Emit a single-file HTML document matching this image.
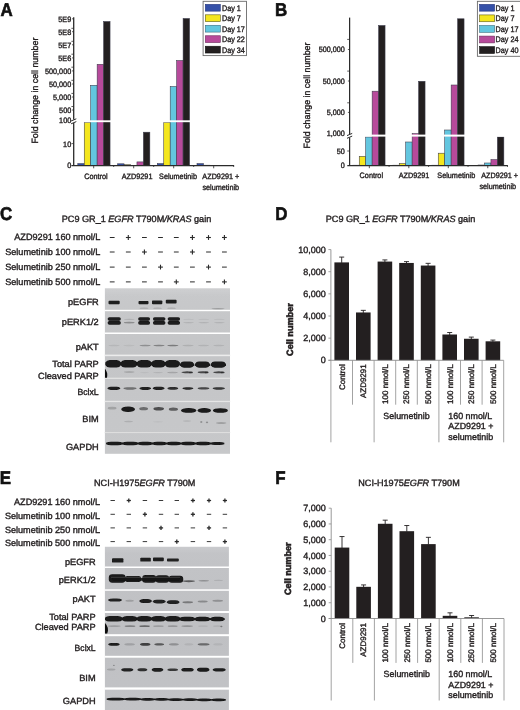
<!DOCTYPE html>
<html lang="en"><head><meta charset="utf-8"><title>Figure</title>
<style>html,body{margin:0;padding:0;background:#fff}svg{display:block}text{font-family:'Liberation Sans', sans-serif;text-rendering:geometricPrecision;stroke:#231f20;stroke-width:0.38px}</style>
</head><body>
<svg width="520" height="710" viewBox="0 0 520 710">
<defs>
<filter id="b0" x="-50%" y="-30%" width="200%" height="160%"><feGaussianBlur stdDeviation="0.35"/></filter>
<filter id="b1" x="-30%" y="-80%" width="160%" height="260%"><feGaussianBlur stdDeviation="0.5"/></filter>
<filter id="b2" x="-30%" y="-100%" width="160%" height="300%"><feGaussianBlur stdDeviation="0.75"/></filter>
<linearGradient id="gbgC" x1="0" y1="0" x2="0" y2="1"><stop offset="0" stop-color="#c8c9cb"/><stop offset="0.4" stop-color="#c4c5c7"/><stop offset="1" stop-color="#c7c8ca"/></linearGradient>
<linearGradient id="gbgE" x1="0" y1="0" x2="0" y2="1"><stop offset="0" stop-color="#c3c4c7"/><stop offset="0.5" stop-color="#bfc0c3"/><stop offset="1" stop-color="#c2c3c6"/></linearGradient>
<linearGradient id="gtop" x1="0" y1="0" x2="0" y2="1"><stop offset="0" stop-color="#fff" stop-opacity="0.12"/><stop offset="1" stop-color="#fff" stop-opacity="0"/></linearGradient>
</defs>
<rect width="520" height="710" fill="#fff"/>
<text transform="translate(0.4 16.2) scale(0.92 1)" font-size="18.4" text-anchor="start" font-weight="bold" fill="#111" style="stroke:#111;stroke-width:0.6px">A</text>
<rect x="77.80" y="163.60" width="6.45" height="2.10" fill="#3450a8" stroke="#3a3a4a" stroke-width="0.55"/>
<rect x="84.25" y="122.50" width="6.45" height="43.20" fill="#f4e61e" stroke="#3a3a4a" stroke-width="0.55"/>
<rect x="90.70" y="85.30" width="6.45" height="80.40" fill="#63c6df" stroke="#3a3a4a" stroke-width="0.55"/>
<rect x="97.15" y="64.30" width="6.45" height="101.40" fill="#b74a9b" stroke="#3a3a4a" stroke-width="0.55"/>
<rect x="103.60" y="21.50" width="6.45" height="144.20" fill="#231f20" stroke="#3a3a4a" stroke-width="0.55"/>
<rect x="117.60" y="163.80" width="6.45" height="1.90" fill="#3450a8" stroke="#3a3a4a" stroke-width="0.55"/>
<rect x="124.05" y="164.70" width="6.45" height="1.00" fill="#f4e61e" stroke="#3a3a4a" stroke-width="0.55"/>
<rect x="136.95" y="161.90" width="6.45" height="3.80" fill="#b74a9b" stroke="#3a3a4a" stroke-width="0.55"/>
<rect x="143.40" y="132.20" width="6.45" height="33.50" fill="#231f20" stroke="#3a3a4a" stroke-width="0.55"/>
<rect x="157.30" y="163.60" width="6.45" height="2.10" fill="#3450a8" stroke="#3a3a4a" stroke-width="0.55"/>
<rect x="163.75" y="122.50" width="6.45" height="43.20" fill="#f4e61e" stroke="#3a3a4a" stroke-width="0.55"/>
<rect x="170.20" y="86.50" width="6.45" height="79.20" fill="#63c6df" stroke="#3a3a4a" stroke-width="0.55"/>
<rect x="176.65" y="60.50" width="6.45" height="105.20" fill="#b74a9b" stroke="#3a3a4a" stroke-width="0.55"/>
<rect x="183.10" y="18.50" width="6.45" height="147.20" fill="#231f20" stroke="#3a3a4a" stroke-width="0.55"/>
<rect x="197.00" y="163.60" width="6.45" height="2.10" fill="#3450a8" stroke="#3a3a4a" stroke-width="0.55"/>
<rect x="203.45" y="165.20" width="6.45" height="0.50" fill="#f4e61e" stroke="#3a3a4a" stroke-width="0.55"/>
<rect x="70.00" y="120.30" width="175.00" height="1.90" fill="#fff"/>
<line x1="73.70" y1="17.20" x2="73.70" y2="119.60" stroke="#2b2b2b" stroke-width="1.3"/>
<line x1="73.70" y1="123.00" x2="73.70" y2="165.70" stroke="#2b2b2b" stroke-width="1.3"/>
<line x1="71.40" y1="165.70" x2="234.10" y2="165.70" stroke="#2b2b2b" stroke-width="1.25"/>
<line x1="71.10" y1="121.00" x2="76.30" y2="118.80" stroke="#2b2b2b" stroke-width="1.0"/>
<line x1="71.10" y1="123.80" x2="76.30" y2="121.60" stroke="#2b2b2b" stroke-width="1.0"/>
<text transform="translate(71.2 21.8) scale(0.93 1)" font-size="7.8" text-anchor="end" fill="#231f20">5E9</text>
<text transform="translate(71.2 34.8) scale(0.93 1)" font-size="7.8" text-anchor="end" fill="#231f20">5E8</text>
<text transform="translate(71.2 47.8) scale(0.93 1)" font-size="7.8" text-anchor="end" fill="#231f20">5E7</text>
<text transform="translate(71.2 60.599999999999994) scale(0.93 1)" font-size="7.8" text-anchor="end" fill="#231f20">5E6</text>
<text transform="translate(71.2 73.6) scale(0.93 1)" font-size="7.8" text-anchor="end" fill="#231f20">500,000</text>
<text transform="translate(71.2 86.89999999999999) scale(0.93 1)" font-size="7.8" text-anchor="end" fill="#231f20">50,000</text>
<text transform="translate(71.2 100.1) scale(0.93 1)" font-size="7.8" text-anchor="end" fill="#231f20">5,000</text>
<text transform="translate(71.2 113.0) scale(0.93 1)" font-size="7.8" text-anchor="end" fill="#231f20">500</text>
<text transform="translate(71.2 122.6) scale(0.93 1)" font-size="7.8" text-anchor="end" fill="#231f20">100</text>
<text transform="translate(71.2 147.0) scale(0.93 1)" font-size="7.8" text-anchor="end" fill="#231f20">10</text>
<text transform="translate(71.2 168.4) scale(0.93 1)" font-size="7.8" text-anchor="end" fill="#231f20">0</text>
<line x1="71.40" y1="28.30" x2="73.70" y2="28.30" stroke="#2b2b2b" stroke-width="0.75"/>
<line x1="71.40" y1="41.30" x2="73.70" y2="41.30" stroke="#2b2b2b" stroke-width="0.75"/>
<line x1="71.40" y1="54.20" x2="73.70" y2="54.20" stroke="#2b2b2b" stroke-width="0.75"/>
<line x1="71.40" y1="67.20" x2="73.70" y2="67.20" stroke="#2b2b2b" stroke-width="0.75"/>
<line x1="71.40" y1="80.30" x2="73.70" y2="80.30" stroke="#2b2b2b" stroke-width="0.75"/>
<line x1="71.40" y1="93.40" x2="73.70" y2="93.40" stroke="#2b2b2b" stroke-width="0.75"/>
<line x1="71.40" y1="106.50" x2="73.70" y2="106.50" stroke="#2b2b2b" stroke-width="0.75"/>
<line x1="71.40" y1="143.60" x2="73.70" y2="143.60" stroke="#2b2b2b" stroke-width="0.75"/>
<line x1="72.00" y1="18.80" x2="73.70" y2="18.80" stroke="#2b2b2b" stroke-width="0.75"/>
<line x1="72.00" y1="31.70" x2="73.70" y2="31.70" stroke="#2b2b2b" stroke-width="0.75"/>
<line x1="72.00" y1="44.80" x2="73.70" y2="44.80" stroke="#2b2b2b" stroke-width="0.75"/>
<line x1="72.00" y1="57.90" x2="73.70" y2="57.90" stroke="#2b2b2b" stroke-width="0.75"/>
<line x1="72.00" y1="70.90" x2="73.70" y2="70.90" stroke="#2b2b2b" stroke-width="0.75"/>
<line x1="72.00" y1="84.00" x2="73.70" y2="84.00" stroke="#2b2b2b" stroke-width="0.75"/>
<line x1="72.00" y1="97.00" x2="73.70" y2="97.00" stroke="#2b2b2b" stroke-width="0.75"/>
<line x1="72.00" y1="110.00" x2="73.70" y2="110.00" stroke="#2b2b2b" stroke-width="0.75"/>
<line x1="93.70" y1="165.70" x2="93.70" y2="168.30" stroke="#2b2b2b" stroke-width="0.8"/>
<line x1="113.70" y1="165.70" x2="113.70" y2="167.00" stroke="#2b2b2b" stroke-width="0.8"/>
<line x1="133.70" y1="165.70" x2="133.70" y2="168.30" stroke="#2b2b2b" stroke-width="0.8"/>
<line x1="153.70" y1="165.70" x2="153.70" y2="167.00" stroke="#2b2b2b" stroke-width="0.8"/>
<line x1="173.70" y1="165.70" x2="173.70" y2="168.30" stroke="#2b2b2b" stroke-width="0.8"/>
<line x1="193.70" y1="165.70" x2="193.70" y2="167.00" stroke="#2b2b2b" stroke-width="0.8"/>
<line x1="213.70" y1="165.70" x2="213.70" y2="168.30" stroke="#2b2b2b" stroke-width="0.8"/>
<line x1="233.70" y1="165.70" x2="233.70" y2="167.00" stroke="#2b2b2b" stroke-width="0.8"/>
<text transform="translate(38.3 90.6) rotate(-90) scale(0.97 1)" font-size="9.1" text-anchor="middle" fill="#231f20">Fold change in cell number</text>
<text transform="translate(95.9 179.0) scale(0.93 1)" font-size="7.8" text-anchor="middle" fill="#231f20">Control</text>
<text transform="translate(137.1 179.0) scale(0.93 1)" font-size="7.8" text-anchor="middle" fill="#231f20">AZD9291</text>
<text transform="translate(178.0 179.0) scale(0.93 1)" font-size="7.8" text-anchor="middle" fill="#231f20">Selumetinib</text>
<text transform="translate(220.8 179.0) scale(0.93 1)" font-size="7.8" text-anchor="middle" fill="#231f20">AZD9291 +</text>
<text transform="translate(220.8 190.3) scale(0.93 1)" font-size="7.8" text-anchor="middle" fill="#231f20">selumetinib</text>
<rect x="203.10" y="1.30" width="43.40" height="54.30" fill="#fff" stroke="#6a6a6a" stroke-width="0.9"/>
<rect x="205.30" y="4.35" width="15.00" height="6.80" fill="#3450a8" stroke="#26367e" stroke-width="0.6"/>
<text transform="translate(222.0 10.65) scale(0.9 1)" font-size="8.0" text-anchor="start" fill="#231f20">Day 1</text>
<rect x="205.30" y="14.82" width="15.00" height="6.80" fill="#f4e61e" stroke="#5c5a1a" stroke-width="0.6"/>
<text transform="translate(222.0 21.119999999999997) scale(0.9 1)" font-size="8.0" text-anchor="start" fill="#231f20">Day 7</text>
<rect x="205.30" y="25.29" width="15.00" height="6.80" fill="#63c6df" stroke="#3c6f80" stroke-width="0.6"/>
<text transform="translate(222.0 31.59) scale(0.9 1)" font-size="8.0" text-anchor="start" fill="#231f20">Day 17</text>
<rect x="205.30" y="35.76" width="15.00" height="6.80" fill="#b74a9b" stroke="#6e2c5e" stroke-width="0.6"/>
<text transform="translate(222.0 42.06) scale(0.9 1)" font-size="8.0" text-anchor="start" fill="#231f20">Day 22</text>
<rect x="205.30" y="46.23" width="15.00" height="6.80" fill="#231f20" stroke="#111" stroke-width="0.6"/>
<text transform="translate(222.0 52.53) scale(0.9 1)" font-size="8.0" text-anchor="start" fill="#231f20">Day 34</text>
<text transform="translate(275.1 16.3) scale(0.92 1)" font-size="18.4" text-anchor="start" font-weight="bold" fill="#111" style="stroke:#111;stroke-width:0.6px">B</text>
<rect x="352.80" y="165.20" width="6.45" height="0.40" fill="#3450a8" stroke="#3a3a4a" stroke-width="0.55"/>
<rect x="359.25" y="156.30" width="6.45" height="9.30" fill="#f4e61e" stroke="#3a3a4a" stroke-width="0.55"/>
<rect x="365.70" y="137.00" width="6.45" height="28.60" fill="#63c6df" stroke="#3a3a4a" stroke-width="0.55"/>
<rect x="372.15" y="91.20" width="6.45" height="74.40" fill="#b74a9b" stroke="#3a3a4a" stroke-width="0.55"/>
<rect x="378.60" y="25.50" width="6.45" height="140.10" fill="#231f20" stroke="#3a3a4a" stroke-width="0.55"/>
<rect x="392.80" y="165.20" width="6.45" height="0.40" fill="#3450a8" stroke="#3a3a4a" stroke-width="0.55"/>
<rect x="399.25" y="163.50" width="6.45" height="2.10" fill="#f4e61e" stroke="#3a3a4a" stroke-width="0.55"/>
<rect x="405.70" y="142.00" width="6.45" height="23.60" fill="#63c6df" stroke="#3a3a4a" stroke-width="0.55"/>
<rect x="412.15" y="133.60" width="6.45" height="32.00" fill="#b74a9b" stroke="#3a3a4a" stroke-width="0.55"/>
<rect x="418.60" y="81.30" width="6.45" height="84.30" fill="#231f20" stroke="#3a3a4a" stroke-width="0.55"/>
<rect x="431.80" y="165.20" width="6.45" height="0.40" fill="#3450a8" stroke="#3a3a4a" stroke-width="0.55"/>
<rect x="438.25" y="153.20" width="6.45" height="12.40" fill="#f4e61e" stroke="#3a3a4a" stroke-width="0.55"/>
<rect x="444.70" y="130.00" width="6.45" height="35.60" fill="#63c6df" stroke="#3a3a4a" stroke-width="0.55"/>
<rect x="451.15" y="85.00" width="6.45" height="80.60" fill="#b74a9b" stroke="#3a3a4a" stroke-width="0.55"/>
<rect x="457.60" y="18.80" width="6.45" height="146.80" fill="#231f20" stroke="#3a3a4a" stroke-width="0.55"/>
<rect x="471.60" y="165.30" width="6.45" height="0.30" fill="#3450a8" stroke="#3a3a4a" stroke-width="0.55"/>
<rect x="478.05" y="165.00" width="6.45" height="0.60" fill="#f4e61e" stroke="#3a3a4a" stroke-width="0.55"/>
<rect x="484.50" y="163.00" width="6.45" height="2.60" fill="#63c6df" stroke="#3a3a4a" stroke-width="0.55"/>
<rect x="490.95" y="159.60" width="6.45" height="6.00" fill="#b74a9b" stroke="#3a3a4a" stroke-width="0.55"/>
<rect x="497.40" y="137.00" width="6.45" height="28.60" fill="#231f20" stroke="#3a3a4a" stroke-width="0.55"/>
<rect x="346.00" y="134.60" width="170.00" height="2.00" fill="#fff"/>
<line x1="349.60" y1="17.60" x2="349.60" y2="134.20" stroke="#2b2b2b" stroke-width="1.25"/>
<line x1="349.60" y1="137.50" x2="349.60" y2="165.60" stroke="#2b2b2b" stroke-width="1.25"/>
<line x1="347.30" y1="165.60" x2="507.90" y2="165.60" stroke="#2b2b2b" stroke-width="1.25"/>
<line x1="347.00" y1="135.60" x2="352.20" y2="133.40" stroke="#2b2b2b" stroke-width="1.0"/>
<line x1="347.00" y1="138.30" x2="352.20" y2="136.10" stroke="#2b2b2b" stroke-width="1.0"/>
<text transform="translate(344.9 52.4) scale(0.93 1)" font-size="7.8" text-anchor="end" fill="#231f20">500,000</text>
<text transform="translate(344.9 83.5) scale(0.93 1)" font-size="7.8" text-anchor="end" fill="#231f20">50,000</text>
<text transform="translate(344.9 114.89999999999999) scale(0.93 1)" font-size="7.8" text-anchor="end" fill="#231f20">5,000</text>
<text transform="translate(344.9 136.4) scale(0.93 1)" font-size="7.8" text-anchor="end" fill="#231f20">1,000</text>
<text transform="translate(344.9 153.8) scale(0.93 1)" font-size="7.8" text-anchor="end" fill="#231f20">50</text>
<text transform="translate(344.9 168.10000000000002) scale(0.93 1)" font-size="7.8" text-anchor="end" fill="#231f20">0</text>
<line x1="347.20" y1="39.40" x2="349.60" y2="39.40" stroke="#2b2b2b" stroke-width="0.75"/>
<line x1="347.20" y1="71.10" x2="349.60" y2="71.10" stroke="#2b2b2b" stroke-width="0.75"/>
<line x1="347.20" y1="102.80" x2="349.60" y2="102.80" stroke="#2b2b2b" stroke-width="0.75"/>
<line x1="347.20" y1="151.00" x2="349.60" y2="151.00" stroke="#2b2b2b" stroke-width="0.75"/>
<line x1="347.90" y1="49.50" x2="349.60" y2="49.50" stroke="#2b2b2b" stroke-width="0.75"/>
<line x1="347.90" y1="81.00" x2="349.60" y2="81.00" stroke="#2b2b2b" stroke-width="0.75"/>
<line x1="347.90" y1="112.40" x2="349.60" y2="112.40" stroke="#2b2b2b" stroke-width="0.75"/>
<line x1="369.34" y1="165.60" x2="369.34" y2="168.20" stroke="#2b2b2b" stroke-width="0.8"/>
<line x1="389.08" y1="165.60" x2="389.08" y2="166.90" stroke="#2b2b2b" stroke-width="0.8"/>
<line x1="408.82" y1="165.60" x2="408.82" y2="168.20" stroke="#2b2b2b" stroke-width="0.8"/>
<line x1="428.56" y1="165.60" x2="428.56" y2="166.90" stroke="#2b2b2b" stroke-width="0.8"/>
<line x1="448.30" y1="165.60" x2="448.30" y2="168.20" stroke="#2b2b2b" stroke-width="0.8"/>
<line x1="468.04" y1="165.60" x2="468.04" y2="166.90" stroke="#2b2b2b" stroke-width="0.8"/>
<line x1="487.78" y1="165.60" x2="487.78" y2="168.20" stroke="#2b2b2b" stroke-width="0.8"/>
<line x1="507.52" y1="165.60" x2="507.52" y2="166.90" stroke="#2b2b2b" stroke-width="0.8"/>
<text transform="translate(309.9 95.5) rotate(-90) scale(0.97 1)" font-size="9.1" text-anchor="middle" fill="#231f20">Fold change in cell number</text>
<text transform="translate(371.3 177.5) scale(0.93 1)" font-size="7.8" text-anchor="middle" fill="#231f20">Control</text>
<text transform="translate(414 177.5) scale(0.93 1)" font-size="7.8" text-anchor="middle" fill="#231f20">AZD9291</text>
<text transform="translate(456.3 177.5) scale(0.93 1)" font-size="7.8" text-anchor="middle" fill="#231f20">Selumetinib</text>
<text transform="translate(499.6 177.5) scale(0.93 1)" font-size="7.8" text-anchor="middle" fill="#231f20">AZD9291 +</text>
<text transform="translate(497.8 189.2) scale(0.93 1)" font-size="7.8" text-anchor="middle" fill="#231f20">selumetinib</text>
<rect x="477.40" y="1.30" width="43.40" height="55.00" fill="#fff" stroke="#6a6a6a" stroke-width="0.9"/>
<rect x="479.60" y="4.35" width="15.00" height="6.80" fill="#3450a8" stroke="#26367e" stroke-width="0.6"/>
<text transform="translate(495.59999999999997 10.65) scale(0.9 1)" font-size="8.0" text-anchor="start" fill="#231f20">Day 1</text>
<rect x="479.60" y="14.93" width="15.00" height="6.80" fill="#f4e61e" stroke="#5c5a1a" stroke-width="0.6"/>
<text transform="translate(495.59999999999997 21.229999999999997) scale(0.9 1)" font-size="8.0" text-anchor="start" fill="#231f20">Day 7</text>
<rect x="479.60" y="25.51" width="15.00" height="6.80" fill="#63c6df" stroke="#3c6f80" stroke-width="0.6"/>
<text transform="translate(495.59999999999997 31.81) scale(0.9 1)" font-size="8.0" text-anchor="start" fill="#231f20">Day 17</text>
<rect x="479.60" y="36.09" width="15.00" height="6.80" fill="#b74a9b" stroke="#6e2c5e" stroke-width="0.6"/>
<text transform="translate(495.59999999999997 42.39) scale(0.9 1)" font-size="8.0" text-anchor="start" fill="#231f20">Day 24</text>
<rect x="479.60" y="46.67" width="15.00" height="6.80" fill="#231f20" stroke="#111" stroke-width="0.6"/>
<text transform="translate(495.59999999999997 52.97) scale(0.9 1)" font-size="8.0" text-anchor="start" fill="#231f20">Day 40</text>
<text transform="translate(0.0 220.0) scale(0.92 1)" font-size="18.4" text-anchor="start" font-weight="bold" fill="#111" style="stroke:#111;stroke-width:0.6px">C</text>
<text x="61.8" y="222.3" font-size="9.1" fill="#231f20" xml:space="preserve">PC9 GR_1 <tspan font-style="italic">EGFR</tspan> T790M<tspan font-style="italic">/KRAS</tspan> gain</text>
<text x="100.4" y="240.3" font-size="9.12" text-anchor="end" fill="#231f20">AZD9291 160 nmol/L</text>
<line x1="109.80" y1="237.50" x2="114.60" y2="237.50" stroke="#2a2a2a" stroke-width="1.0"/>
<line x1="125.90" y1="237.50" x2="130.70" y2="237.50" stroke="#2a2a2a" stroke-width="1.1"/>
<line x1="128.30" y1="235.10" x2="128.30" y2="239.90" stroke="#2a2a2a" stroke-width="1.1"/>
<line x1="142.00" y1="237.50" x2="146.80" y2="237.50" stroke="#2a2a2a" stroke-width="1.0"/>
<line x1="158.10" y1="237.50" x2="162.90" y2="237.50" stroke="#2a2a2a" stroke-width="1.0"/>
<line x1="173.90" y1="237.50" x2="178.70" y2="237.50" stroke="#2a2a2a" stroke-width="1.0"/>
<line x1="190.00" y1="237.50" x2="194.80" y2="237.50" stroke="#2a2a2a" stroke-width="1.1"/>
<line x1="192.40" y1="235.10" x2="192.40" y2="239.90" stroke="#2a2a2a" stroke-width="1.1"/>
<line x1="206.10" y1="237.50" x2="210.90" y2="237.50" stroke="#2a2a2a" stroke-width="1.1"/>
<line x1="208.50" y1="235.10" x2="208.50" y2="239.90" stroke="#2a2a2a" stroke-width="1.1"/>
<line x1="222.00" y1="237.50" x2="226.80" y2="237.50" stroke="#2a2a2a" stroke-width="1.1"/>
<line x1="224.40" y1="235.10" x2="224.40" y2="239.90" stroke="#2a2a2a" stroke-width="1.1"/>
<text x="100.4" y="254.9" font-size="9.12" text-anchor="end" fill="#231f20">Selumetinib 100 nmol/L</text>
<line x1="109.80" y1="252.00" x2="114.60" y2="252.00" stroke="#2a2a2a" stroke-width="1.0"/>
<line x1="125.90" y1="252.00" x2="130.70" y2="252.00" stroke="#2a2a2a" stroke-width="1.0"/>
<line x1="142.00" y1="252.00" x2="146.80" y2="252.00" stroke="#2a2a2a" stroke-width="1.1"/>
<line x1="144.40" y1="249.60" x2="144.40" y2="254.40" stroke="#2a2a2a" stroke-width="1.1"/>
<line x1="158.10" y1="252.00" x2="162.90" y2="252.00" stroke="#2a2a2a" stroke-width="1.0"/>
<line x1="173.90" y1="252.00" x2="178.70" y2="252.00" stroke="#2a2a2a" stroke-width="1.0"/>
<line x1="190.00" y1="252.00" x2="194.80" y2="252.00" stroke="#2a2a2a" stroke-width="1.1"/>
<line x1="192.40" y1="249.60" x2="192.40" y2="254.40" stroke="#2a2a2a" stroke-width="1.1"/>
<line x1="206.10" y1="252.00" x2="210.90" y2="252.00" stroke="#2a2a2a" stroke-width="1.0"/>
<line x1="222.00" y1="252.00" x2="226.80" y2="252.00" stroke="#2a2a2a" stroke-width="1.0"/>
<text x="100.4" y="269.8" font-size="9.12" text-anchor="end" fill="#231f20">Selumetinib 250 nmol/L</text>
<line x1="109.80" y1="267.10" x2="114.60" y2="267.10" stroke="#2a2a2a" stroke-width="1.0"/>
<line x1="125.90" y1="267.10" x2="130.70" y2="267.10" stroke="#2a2a2a" stroke-width="1.0"/>
<line x1="142.00" y1="267.10" x2="146.80" y2="267.10" stroke="#2a2a2a" stroke-width="1.0"/>
<line x1="158.10" y1="267.10" x2="162.90" y2="267.10" stroke="#2a2a2a" stroke-width="1.1"/>
<line x1="160.50" y1="264.70" x2="160.50" y2="269.50" stroke="#2a2a2a" stroke-width="1.1"/>
<line x1="173.90" y1="267.10" x2="178.70" y2="267.10" stroke="#2a2a2a" stroke-width="1.0"/>
<line x1="190.00" y1="267.10" x2="194.80" y2="267.10" stroke="#2a2a2a" stroke-width="1.0"/>
<line x1="206.10" y1="267.10" x2="210.90" y2="267.10" stroke="#2a2a2a" stroke-width="1.1"/>
<line x1="208.50" y1="264.70" x2="208.50" y2="269.50" stroke="#2a2a2a" stroke-width="1.1"/>
<line x1="222.00" y1="267.10" x2="226.80" y2="267.10" stroke="#2a2a2a" stroke-width="1.0"/>
<text x="100.4" y="284.6" font-size="9.12" text-anchor="end" fill="#231f20">Selumetinib 500 nmol/L</text>
<line x1="109.80" y1="281.90" x2="114.60" y2="281.90" stroke="#2a2a2a" stroke-width="1.0"/>
<line x1="125.90" y1="281.90" x2="130.70" y2="281.90" stroke="#2a2a2a" stroke-width="1.0"/>
<line x1="142.00" y1="281.90" x2="146.80" y2="281.90" stroke="#2a2a2a" stroke-width="1.0"/>
<line x1="158.10" y1="281.90" x2="162.90" y2="281.90" stroke="#2a2a2a" stroke-width="1.0"/>
<line x1="173.90" y1="281.90" x2="178.70" y2="281.90" stroke="#2a2a2a" stroke-width="1.1"/>
<line x1="176.30" y1="279.50" x2="176.30" y2="284.30" stroke="#2a2a2a" stroke-width="1.1"/>
<line x1="190.00" y1="281.90" x2="194.80" y2="281.90" stroke="#2a2a2a" stroke-width="1.0"/>
<line x1="206.10" y1="281.90" x2="210.90" y2="281.90" stroke="#2a2a2a" stroke-width="1.0"/>
<line x1="222.00" y1="281.90" x2="226.80" y2="281.90" stroke="#2a2a2a" stroke-width="1.1"/>
<line x1="224.40" y1="279.50" x2="224.40" y2="284.30" stroke="#2a2a2a" stroke-width="1.1"/>
<text transform="translate(98.7 305.09999999999997) scale(1.03 1)" font-size="8.95" text-anchor="end" fill="#231f20">pEGFR</text>
<text transform="translate(98.7 325.09999999999997) scale(1.03 1)" font-size="8.95" text-anchor="end" fill="#231f20">pERK1/2</text>
<text transform="translate(98.7 349.7) scale(1.03 1)" font-size="8.95" text-anchor="end" fill="#231f20">pAKT</text>
<text transform="translate(98.7 367.4) scale(1.03 1)" font-size="8.95" text-anchor="end" fill="#231f20">Total PARP</text>
<text transform="translate(98.7 379.4) scale(1.03 1)" font-size="8.95" text-anchor="end" fill="#231f20">Cleaved PARP</text>
<text transform="translate(98.7 394.7) scale(0.97 1)" font-size="8.95" text-anchor="end" fill="#231f20">BclxL</text>
<text transform="translate(98.7 421.8) scale(1.03 1)" font-size="8.95" text-anchor="end" fill="#231f20">BIM</text>
<text transform="translate(98.7 450.2) scale(1.03 1)" font-size="8.95" text-anchor="end" fill="#231f20">GAPDH</text>
<rect x="104.90" y="288.30" width="125.10" height="165.50" fill="url(#gbgC)"/>
<clipPath id="c1"><rect x="104.9" y="288.3" width="125.1" height="21.5"/></clipPath>
<clipPath id="c2"><rect x="104.9" y="311.2" width="125.1" height="21.30000000000001"/></clipPath>
<clipPath id="c3"><rect x="104.9" y="334.0" width="125.1" height="20.600000000000023"/></clipPath>
<clipPath id="c4"><rect x="104.9" y="356.2" width="125.1" height="21.5"/></clipPath>
<clipPath id="c5"><rect x="104.9" y="378.9" width="125.1" height="21.900000000000034"/></clipPath>
<clipPath id="c6"><rect x="104.9" y="402.1" width="125.1" height="29.899999999999977"/></clipPath>
<clipPath id="c7"><rect x="104.9" y="433.1" width="125.1" height="20.69999999999999"/></clipPath>
<rect x="104.70" y="309.80" width="125.50" height="1.40" fill="#fff"/>
<rect x="104.70" y="332.50" width="125.50" height="1.50" fill="#fff"/>
<rect x="104.70" y="354.60" width="125.50" height="1.60" fill="#ececec"/>
<rect x="104.70" y="377.70" width="125.50" height="1.20" fill="#e4e4e4"/>
<rect x="104.70" y="400.80" width="125.50" height="1.30" fill="#e6e6e6"/>
<rect x="104.70" y="432.00" width="125.50" height="1.10" fill="#dedede"/>
<rect x="104.90" y="288.30" width="125.10" height="8.00" fill="url(#gtop)"/>
<g clip-path="url(#c1)">
<rect x="108.5" y="300.75" width="11.2" height="3.50" rx="0.9" fill="#121212" opacity="0.95" filter="url(#b1)"/>
<rect x="138.5" y="300.95" width="10.0" height="3.30" rx="0.9" fill="#121212" opacity="0.95" filter="url(#b1)"/>
<rect x="152.0" y="300.45" width="10.3" height="3.70" rx="0.9" fill="#121212" opacity="0.95" filter="url(#b1)"/>
<rect x="165.8" y="299.80" width="10.8" height="3.60" rx="0.9" fill="#121212" opacity="0.95" filter="url(#b1)"/>
<ellipse cx="144.0" cy="308.2" rx="4.5" ry="0.65" fill="#121212" opacity="0.16" filter="url(#b2)"/>
<ellipse cx="157.5" cy="308.2" rx="4.5" ry="0.65" fill="#121212" opacity="0.16" filter="url(#b2)"/>
<ellipse cx="171.5" cy="308.2" rx="4.5" ry="0.65" fill="#121212" opacity="0.16" filter="url(#b2)"/>
<ellipse cx="218.0" cy="308.7" rx="6.5" ry="0.75" fill="#121212" opacity="0.22" filter="url(#b2)"/>
</g>
<g clip-path="url(#c2)">
<rect x="107.7" y="317.15" width="13.1" height="3.50" rx="1.6" fill="#121212" opacity="0.95" filter="url(#b1)"/>
<rect x="107.7" y="320.95" width="13.1" height="3.70" rx="1.6" fill="#121212" opacity="0.95" filter="url(#b1)"/>
<rect x="109.2" y="319.90" width="10.1" height="2.00" rx="0.9" fill="#121212" opacity="0.35" filter="url(#b1)"/>
<rect x="138.2" y="317.15" width="11.8" height="3.50" rx="1.6" fill="#121212" opacity="0.95" filter="url(#b1)"/>
<rect x="138.2" y="320.95" width="11.8" height="3.70" rx="1.6" fill="#121212" opacity="0.95" filter="url(#b1)"/>
<rect x="139.7" y="319.90" width="8.8" height="2.00" rx="0.9" fill="#121212" opacity="0.35" filter="url(#b1)"/>
<rect x="153.0" y="317.15" width="12.4" height="3.50" rx="1.6" fill="#121212" opacity="0.95" filter="url(#b1)"/>
<rect x="153.0" y="320.95" width="12.4" height="3.70" rx="1.6" fill="#121212" opacity="0.95" filter="url(#b1)"/>
<rect x="154.5" y="319.90" width="9.4" height="2.00" rx="0.9" fill="#121212" opacity="0.35" filter="url(#b1)"/>
<rect x="167.7" y="317.15" width="12.3" height="3.50" rx="1.6" fill="#121212" opacity="0.95" filter="url(#b1)"/>
<rect x="167.7" y="320.95" width="12.3" height="3.70" rx="1.6" fill="#121212" opacity="0.95" filter="url(#b1)"/>
<rect x="169.2" y="319.90" width="9.3" height="2.00" rx="0.9" fill="#121212" opacity="0.35" filter="url(#b1)"/>
<ellipse cx="129.2" cy="319.3" rx="5.4" ry="0.65" fill="#121212" opacity="0.12" filter="url(#b2)"/>
<ellipse cx="129.2" cy="322.6" rx="5.4" ry="0.90" fill="#121212" opacity="0.32" filter="url(#b2)"/>
<ellipse cx="188.5" cy="319.4" rx="5.5" ry="0.60" fill="#121212" opacity="0.05" filter="url(#b2)"/>
<ellipse cx="188.5" cy="322.6" rx="5.5" ry="0.70" fill="#121212" opacity="0.11" filter="url(#b2)"/>
<ellipse cx="203.8" cy="319.4" rx="5.5" ry="0.60" fill="#121212" opacity="0.05" filter="url(#b2)"/>
<ellipse cx="203.8" cy="322.6" rx="5.5" ry="0.70" fill="#121212" opacity="0.11" filter="url(#b2)"/>
<ellipse cx="219.2" cy="319.4" rx="5.5" ry="0.60" fill="#121212" opacity="0.05" filter="url(#b2)"/>
<ellipse cx="219.2" cy="322.6" rx="5.5" ry="0.70" fill="#121212" opacity="0.11" filter="url(#b2)"/>
</g>
<g clip-path="url(#c3)">
<ellipse cx="114.0" cy="345.5" rx="5.6" ry="0.80" fill="#121212" opacity="0.08" filter="url(#b2)"/>
<ellipse cx="129.0" cy="345.5" rx="5.6" ry="0.80" fill="#121212" opacity="0.06" filter="url(#b2)"/>
<ellipse cx="145.2" cy="345.5" rx="5.6" ry="0.80" fill="#121212" opacity="0.3" filter="url(#b2)"/>
<ellipse cx="159.0" cy="345.5" rx="5.6" ry="0.80" fill="#121212" opacity="0.38" filter="url(#b2)"/>
<ellipse cx="172.8" cy="345.5" rx="5.6" ry="0.80" fill="#121212" opacity="0.42" filter="url(#b2)"/>
<ellipse cx="188.0" cy="345.5" rx="5.6" ry="0.80" fill="#121212" opacity="0.12" filter="url(#b2)"/>
<ellipse cx="203.5" cy="345.5" rx="5.6" ry="0.80" fill="#121212" opacity="0.1" filter="url(#b2)"/>
<ellipse cx="218.8" cy="345.5" rx="5.6" ry="0.80" fill="#121212" opacity="0.1" filter="url(#b2)"/>
</g>
<g clip-path="url(#c4)">
<path d="M105.3 362.50 Q106.9 359.95 109.8 359.95 L116.6 359.95 Q119.5 359.95 121.1 362.50 L121.1 364.90 Q119.5 367.45 116.6 367.45 L109.8 367.45 Q106.9 367.45 105.3 364.90 Z" fill="#121212" opacity="0.97" filter="url(#b1)"/>
<path d="M120.5 362.50 Q122.1 359.95 125.0 359.95 L132.8 359.95 Q135.7 359.95 137.3 362.50 L137.3 364.90 Q135.7 367.45 132.8 367.45 L125.0 367.45 Q122.1 367.45 120.5 364.90 Z" fill="#121212" opacity="0.97" filter="url(#b1)"/>
<path d="M136.7 362.50 Q138.3 359.95 141.2 359.95 L147.3 359.95 Q150.2 359.95 151.8 362.50 L151.8 364.90 Q150.2 367.45 147.3 367.45 L141.2 367.45 Q138.3 367.45 136.7 364.90 Z" fill="#121212" opacity="0.97" filter="url(#b1)"/>
<path d="M151.2 362.50 Q152.8 359.95 155.7 359.95 L161.0 359.95 Q163.9 359.95 165.5 362.50 L165.5 364.90 Q163.9 367.45 161.0 367.45 L155.7 367.45 Q152.8 367.45 151.2 364.90 Z" fill="#121212" opacity="0.97" filter="url(#b1)"/>
<path d="M164.9 362.50 Q166.5 359.95 169.4 359.95 L175.4 359.95 Q178.3 359.95 179.9 362.50 L179.9 364.90 Q178.3 367.45 175.4 367.45 L169.4 367.45 Q166.5 367.45 164.9 364.90 Z" fill="#121212" opacity="0.97" filter="url(#b1)"/>
<path d="M179.9 363.90 Q181.3 361.45 183.9 361.45 L190.2 361.45 Q192.8 361.45 194.2 363.90 L194.2 365.30 Q192.8 367.75 190.2 367.75 L183.9 367.75 Q181.3 367.75 179.9 365.30 Z" fill="#121212" opacity="0.97" filter="url(#b1)"/>
<path d="M194.9 363.90 Q196.3 361.45 198.9 361.45 L206.0 361.45 Q208.6 361.45 210.0 363.90 L210.0 365.30 Q208.6 367.75 206.0 367.75 L198.9 367.75 Q196.3 367.75 194.9 365.30 Z" fill="#121212" opacity="0.97" filter="url(#b1)"/>
<path d="M210.7 363.90 Q212.1 361.45 214.7 361.45 L222.0 361.45 Q224.6 361.45 226.0 363.90 L226.0 365.30 Q224.6 367.75 222.0 367.75 L214.7 367.75 Q212.1 367.75 210.7 365.30 Z" fill="#121212" opacity="0.97" filter="url(#b1)"/>
<ellipse cx="129.2" cy="372.0" rx="5.4" ry="0.80" fill="#121212" opacity="0.2" filter="url(#b2)"/>
<ellipse cx="144.5" cy="372.6" rx="4.5" ry="0.60" fill="#121212" opacity="0.05" filter="url(#b2)"/>
<ellipse cx="158.0" cy="372.6" rx="5.0" ry="0.65" fill="#121212" opacity="0.1" filter="url(#b2)"/>
<ellipse cx="172.5" cy="372.4" rx="5.5" ry="0.75" fill="#121212" opacity="0.18" filter="url(#b2)"/>
<ellipse cx="187.2" cy="372.3" rx="5.8" ry="0.95" fill="#121212" opacity="0.72" filter="url(#b1)"/>
<ellipse cx="191.0" cy="372.4" rx="2.0" ry="1.00" fill="#121212" opacity="0.5" filter="url(#b1)"/>
<ellipse cx="203.1" cy="372.3" rx="5.4" ry="0.95" fill="#121212" opacity="0.72" filter="url(#b1)"/>
<ellipse cx="206.5" cy="372.4" rx="2.0" ry="1.00" fill="#121212" opacity="0.5" filter="url(#b1)"/>
<ellipse cx="218.8" cy="372.3" rx="5.8" ry="0.95" fill="#121212" opacity="0.72" filter="url(#b1)"/>
<ellipse cx="222.6" cy="372.4" rx="2.0" ry="1.00" fill="#121212" opacity="0.5" filter="url(#b1)"/>
<path d="M104.6 368.3 Q108.2 372.5 107.0 377.9 L104.6 377.9 Z" fill="#0a0a0a" filter="url(#b0)"/>
</g>
<g clip-path="url(#c5)">
<path d="M107.5 387.95 Q108.7 386.85 111.0 386.85 L116.7 386.85 Q119.0 386.85 120.2 387.95 L120.2 388.85 Q119.0 389.95 116.7 389.95 L111.0 389.95 Q108.7 389.95 107.5 388.85 Z" fill="#121212" opacity="0.95" filter="url(#b1)"/>
<path d="M123.6 387.95 Q124.8 387.15 127.1 387.15 L132.9 387.15 Q135.2 387.15 136.4 387.95 L136.4 388.85 Q135.2 389.65 132.9 389.65 L127.1 389.65 Q124.8 389.65 123.6 388.85 Z" fill="#121212" opacity="0.48" filter="url(#b1)"/>
<path d="M139.5 387.95 Q140.7 386.90 143.0 386.90 L147.5 386.90 Q149.8 386.90 151.0 387.95 L151.0 388.85 Q149.8 389.90 147.5 389.90 L143.0 389.90 Q140.7 389.90 139.5 388.85 Z" fill="#121212" opacity="0.93" filter="url(#b1)"/>
<path d="M152.8 387.95 Q154.0 386.85 156.3 386.85 L161.0 386.85 Q163.3 386.85 164.5 387.95 L164.5 388.85 Q163.3 389.95 161.0 389.95 L156.3 389.95 Q154.0 389.95 152.8 388.85 Z" fill="#121212" opacity="0.93" filter="url(#b1)"/>
<path d="M167.5 387.95 Q168.7 387.00 171.0 387.00 L174.6 387.00 Q176.9 387.00 178.1 387.95 L178.1 388.85 Q176.9 389.80 174.6 389.80 L171.0 389.80 Q168.7 389.80 167.5 388.85 Z" fill="#121212" opacity="0.86" filter="url(#b1)"/>
<path d="M182.6 387.95 Q183.8 387.15 186.1 387.15 L189.7 387.15 Q192.0 387.15 193.2 387.95 L193.2 388.85 Q192.0 389.65 189.7 389.65 L186.1 389.65 Q183.8 389.65 182.6 388.85 Z" fill="#121212" opacity="0.88" filter="url(#b1)"/>
<path d="M197.8 387.95 Q199.0 387.25 201.3 387.25 L205.7 387.25 Q208.0 387.25 209.2 387.95 L209.2 388.85 Q208.0 389.55 205.7 389.55 L201.3 389.55 Q199.0 389.55 197.8 388.85 Z" fill="#121212" opacity="0.72" filter="url(#b1)"/>
<path d="M212.8 387.95 Q214.0 387.15 216.3 387.15 L221.3 387.15 Q223.6 387.15 224.8 387.95 L224.8 388.85 Q223.6 389.65 221.3 389.65 L216.3 389.65 Q214.0 389.65 212.8 388.85 Z" fill="#121212" opacity="0.8" filter="url(#b1)"/>
</g>
<g clip-path="url(#c6)">
<ellipse cx="112.1" cy="408.2" rx="4.4" ry="1.40" fill="#121212" opacity="0.2" filter="url(#b2)"/>
<ellipse cx="128.1" cy="409.3" rx="6.9" ry="2.80" fill="#121212" opacity="0.97" filter="url(#b1)"/>
<ellipse cx="143.6" cy="408.7" rx="4.4" ry="1.60" fill="#121212" opacity="0.5" filter="url(#b2)"/>
<ellipse cx="158.7" cy="408.8" rx="5.3" ry="1.80" fill="#121212" opacity="0.68" filter="url(#b2)"/>
<ellipse cx="173.4" cy="409.2" rx="4.6" ry="1.60" fill="#121212" opacity="0.58" filter="url(#b2)"/>
<ellipse cx="188.7" cy="410.4" rx="7.7" ry="2.45" fill="#121212" opacity="0.97" filter="url(#b1)"/>
<ellipse cx="204.3" cy="410.4" rx="6.7" ry="2.45" fill="#121212" opacity="0.97" filter="url(#b1)"/>
<ellipse cx="220.4" cy="410.5" rx="7.5" ry="2.35" fill="#121212" opacity="0.97" filter="url(#b1)"/>
<ellipse cx="128.5" cy="421.5" rx="4.5" ry="0.70" fill="#121212" opacity="0.13" filter="url(#b2)"/>
<ellipse cx="158.0" cy="421.8" rx="5.0" ry="0.60" fill="#121212" opacity="0.05" filter="url(#b2)"/>
<ellipse cx="187.0" cy="421.0" rx="4.0" ry="0.75" fill="#121212" opacity="0.1" filter="url(#b2)"/>
<ellipse cx="201.3" cy="422.0" rx="1.1" ry="0.80" fill="#121212" opacity="0.4" filter="url(#b2)"/>
<ellipse cx="207.0" cy="422.4" rx="1.2" ry="0.80" fill="#121212" opacity="0.3" filter="url(#b2)"/>
<ellipse cx="221.2" cy="423.0" rx="5.2" ry="0.80" fill="#121212" opacity="0.28" filter="url(#b2)"/>
</g>
<g clip-path="url(#c7)">
<path d="M106.1 442.75 Q107.9 441.75 111.1 441.75 L117.8 441.75 Q121.0 441.75 122.8 442.75 L122.8 444.25 Q121.0 445.25 117.8 445.25 L111.1 445.25 Q107.9 445.25 106.1 444.25 Z" fill="#121212" opacity="0.97" filter="url(#b1)"/>
<path d="M122.2 442.75 Q124.0 441.75 127.2 441.75 L133.3 441.75 Q136.6 441.75 138.3 442.75 L138.3 444.25 Q136.6 445.25 133.3 445.25 L127.2 445.25 Q124.0 445.25 122.2 444.25 Z" fill="#121212" opacity="0.97" filter="url(#b1)"/>
<path d="M137.7 442.75 Q139.4 441.75 142.7 441.75 L147.8 441.75 Q151.1 441.75 152.8 442.75 L152.8 444.25 Q151.1 445.25 147.8 445.25 L142.7 445.25 Q139.4 445.25 137.7 444.25 Z" fill="#121212" opacity="0.97" filter="url(#b1)"/>
<path d="M152.2 442.75 Q153.9 441.75 157.2 441.75 L161.9 441.75 Q165.2 441.75 166.9 442.75 L166.9 444.25 Q165.2 445.25 161.9 445.25 L157.2 445.25 Q153.9 445.25 152.2 444.25 Z" fill="#121212" opacity="0.97" filter="url(#b1)"/>
<path d="M166.3 442.75 Q168.0 441.75 171.3 441.75 L176.3 441.75 Q179.6 441.75 181.3 442.75 L181.3 444.25 Q179.6 445.25 176.3 445.25 L171.3 445.25 Q168.0 445.25 166.3 444.25 Z" fill="#121212" opacity="0.97" filter="url(#b1)"/>
<path d="M180.7 442.75 Q182.4 441.75 185.7 441.75 L190.9 441.75 Q194.2 441.75 195.9 442.75 L195.9 444.25 Q194.2 445.25 190.9 445.25 L185.7 445.25 Q182.4 445.25 180.7 444.25 Z" fill="#121212" opacity="0.97" filter="url(#b1)"/>
<path d="M195.3 442.75 Q197.0 441.75 200.3 441.75 L205.9 441.75 Q209.2 441.75 210.9 442.75 L210.9 444.25 Q209.2 445.25 205.9 445.25 L200.3 445.25 Q197.0 445.25 195.3 444.25 Z" fill="#121212" opacity="0.97" filter="url(#b1)"/>
<path d="M210.3 442.75 Q212.0 442.00 215.3 442.00 L219.3 442.00 Q222.6 442.00 224.3 442.75 L224.3 444.25 Q222.6 445.00 219.3 445.00 L215.3 445.00 Q212.0 445.00 210.3 444.25 Z" fill="#121212" opacity="0.97" filter="url(#b1)"/>
</g>
<text transform="translate(275.2 219.6) scale(0.92 1)" font-size="18.4" text-anchor="start" font-weight="bold" fill="#111" style="stroke:#111;stroke-width:0.6px">D</text>
<text x="325.8" y="222.3" font-size="9.1" fill="#231f20" xml:space="preserve"><tspan font-style="normal">PC9 GR_1 </tspan><tspan font-style="italic">EGFR</tspan><tspan font-style="normal"> T790M</tspan><tspan font-style="italic">/KRAS</tspan><tspan font-style="normal"> gain</tspan></text>
<text x="325.7" y="363.40000000000003" font-size="9.0" text-anchor="end" fill="#231f20">0</text>
<line x1="328.40" y1="360.30" x2="330.90" y2="360.30" stroke="#8c8c8c" stroke-width="0.8"/>
<text x="325.7" y="341.25000000000006" font-size="9.0" text-anchor="end" fill="#231f20">2,000</text>
<line x1="328.40" y1="338.15" x2="330.90" y2="338.15" stroke="#8c8c8c" stroke-width="0.8"/>
<text x="325.7" y="319.1" font-size="9.0" text-anchor="end" fill="#231f20">4,000</text>
<line x1="328.40" y1="316.00" x2="330.90" y2="316.00" stroke="#8c8c8c" stroke-width="0.8"/>
<text x="325.7" y="296.95000000000005" font-size="9.0" text-anchor="end" fill="#231f20">6,000</text>
<line x1="328.40" y1="293.85" x2="330.90" y2="293.85" stroke="#8c8c8c" stroke-width="0.8"/>
<text x="325.7" y="274.80000000000007" font-size="9.0" text-anchor="end" fill="#231f20">8,000</text>
<line x1="328.40" y1="271.70" x2="330.90" y2="271.70" stroke="#8c8c8c" stroke-width="0.8"/>
<text x="325.7" y="252.65" font-size="9.0" text-anchor="end" fill="#231f20">10,000</text>
<line x1="328.40" y1="249.55" x2="330.90" y2="249.55" stroke="#8c8c8c" stroke-width="0.8"/>
<line x1="330.90" y1="249.55" x2="330.90" y2="360.30" stroke="#8c8c8c" stroke-width="0.9"/>
<line x1="341.70" y1="257.08" x2="341.70" y2="262.90" stroke="#231f20" stroke-width="0.9"/>
<line x1="339.20" y1="257.08" x2="344.20" y2="257.08" stroke="#231f20" stroke-width="0.9"/>
<rect x="334.40" y="262.40" width="14.60" height="97.90" fill="#231f20"/>
<line x1="363.30" y1="310.35" x2="363.30" y2="312.96" stroke="#231f20" stroke-width="0.9"/>
<line x1="360.80" y1="310.35" x2="365.80" y2="310.35" stroke="#231f20" stroke-width="0.9"/>
<rect x="356.00" y="312.46" width="14.60" height="47.84" fill="#231f20"/>
<line x1="384.90" y1="259.91" x2="384.90" y2="262.07" stroke="#231f20" stroke-width="0.9"/>
<line x1="382.40" y1="259.91" x2="387.40" y2="259.91" stroke="#231f20" stroke-width="0.9"/>
<rect x="377.60" y="261.57" width="14.60" height="98.73" fill="#231f20"/>
<line x1="406.50" y1="261.62" x2="406.50" y2="263.45" stroke="#231f20" stroke-width="0.9"/>
<line x1="404.00" y1="261.62" x2="409.00" y2="261.62" stroke="#231f20" stroke-width="0.9"/>
<rect x="399.20" y="262.95" width="14.60" height="97.35" fill="#231f20"/>
<line x1="428.10" y1="263.34" x2="428.10" y2="266.05" stroke="#231f20" stroke-width="0.9"/>
<line x1="425.60" y1="263.34" x2="430.60" y2="263.34" stroke="#231f20" stroke-width="0.9"/>
<rect x="420.80" y="265.55" width="14.60" height="94.75" fill="#231f20"/>
<line x1="449.70" y1="332.50" x2="449.70" y2="335.00" stroke="#231f20" stroke-width="0.9"/>
<line x1="447.20" y1="332.50" x2="452.20" y2="332.50" stroke="#231f20" stroke-width="0.9"/>
<rect x="442.40" y="334.50" width="14.60" height="25.80" fill="#231f20"/>
<line x1="471.30" y1="337.10" x2="471.30" y2="339.26" stroke="#231f20" stroke-width="0.9"/>
<line x1="468.80" y1="337.10" x2="473.80" y2="337.10" stroke="#231f20" stroke-width="0.9"/>
<rect x="464.00" y="338.76" width="14.60" height="21.54" fill="#231f20"/>
<line x1="492.90" y1="340.09" x2="492.90" y2="341.81" stroke="#231f20" stroke-width="0.9"/>
<line x1="490.40" y1="340.09" x2="495.40" y2="340.09" stroke="#231f20" stroke-width="0.9"/>
<rect x="485.60" y="341.31" width="14.60" height="18.99" fill="#231f20"/>
<line x1="328.40" y1="360.30" x2="503.70" y2="360.30" stroke="#8c8c8c" stroke-width="0.9"/>
<line x1="330.90" y1="360.30" x2="330.90" y2="442.30" stroke="#8c8c8c" stroke-width="0.8"/>
<line x1="352.50" y1="360.30" x2="352.50" y2="404.70" stroke="#8c8c8c" stroke-width="0.8"/>
<line x1="374.10" y1="360.30" x2="374.10" y2="442.30" stroke="#8c8c8c" stroke-width="0.8"/>
<line x1="395.70" y1="360.30" x2="395.70" y2="404.70" stroke="#8c8c8c" stroke-width="0.8"/>
<line x1="417.30" y1="360.30" x2="417.30" y2="404.70" stroke="#8c8c8c" stroke-width="0.8"/>
<line x1="438.90" y1="360.30" x2="438.90" y2="442.30" stroke="#8c8c8c" stroke-width="0.8"/>
<line x1="460.50" y1="360.30" x2="460.50" y2="404.70" stroke="#8c8c8c" stroke-width="0.8"/>
<line x1="482.10" y1="360.30" x2="482.10" y2="404.70" stroke="#8c8c8c" stroke-width="0.8"/>
<line x1="503.70" y1="360.30" x2="503.70" y2="442.30" stroke="#8c8c8c" stroke-width="0.8"/>
<text transform="translate(344.5 364.3) rotate(-90)" font-size="8.0" text-anchor="end" fill="#231f20">Control</text>
<text transform="translate(366.09999999999997 364.3) rotate(-90)" font-size="8.0" text-anchor="end" fill="#231f20">AZD9291</text>
<text transform="translate(387.7 364.3) rotate(-90)" font-size="8.0" text-anchor="end" fill="#231f20">100 nmol/L</text>
<text transform="translate(409.3 364.3) rotate(-90)" font-size="8.0" text-anchor="end" fill="#231f20">250 nmol/L</text>
<text transform="translate(430.9 364.3) rotate(-90)" font-size="8.0" text-anchor="end" fill="#231f20">500 nmol/L</text>
<text transform="translate(452.5 364.3) rotate(-90)" font-size="8.0" text-anchor="end" fill="#231f20">100 nmol/L</text>
<text transform="translate(474.09999999999997 364.3) rotate(-90)" font-size="8.0" text-anchor="end" fill="#231f20">250 nmol/L</text>
<text transform="translate(495.7 364.3) rotate(-90)" font-size="8.0" text-anchor="end" fill="#231f20">500 nmol/L</text>
<text x="406.5" y="418.8" font-size="8.9" text-anchor="middle" fill="#231f20">Selumetinib</text>
<text x="448.3" y="418.8" font-size="8.9" text-anchor="start" fill="#231f20">160 nmol/L</text>
<text x="448.3" y="429.3" font-size="8.9" text-anchor="start" fill="#231f20">AZD9291 +</text>
<text x="448.3" y="439.8" font-size="8.9" text-anchor="start" fill="#231f20">selumetinib</text>
<text transform="translate(292.70000000000005 329.6) rotate(-90)" font-size="9.15" text-anchor="middle" font-weight="bold" fill="#231f20" style="stroke-width:0.55px">Cell number</text>
<text transform="translate(-0.3 483.8) scale(0.92 1)" font-size="18.4" text-anchor="start" font-weight="bold" fill="#111" style="stroke:#111;stroke-width:0.6px">E</text>
<text x="94.0" y="486.3" font-size="9.1" fill="#231f20" xml:space="preserve">NCI-H1975<tspan font-style="italic">EGFR</tspan> T790M</text>
<text x="100.1" y="505.4" font-size="9.12" text-anchor="end" fill="#231f20">AZD9291 160 nmol/L</text>
<line x1="110.50" y1="500.50" x2="114.90" y2="500.50" stroke="#3a3a3a" stroke-width="1.0"/>
<line x1="126.70" y1="500.50" x2="130.90" y2="500.50" stroke="#2a2a2a" stroke-width="1.3"/>
<line x1="128.80" y1="498.40" x2="128.80" y2="502.60" stroke="#2a2a2a" stroke-width="1.3"/>
<line x1="142.70" y1="500.50" x2="147.10" y2="500.50" stroke="#3a3a3a" stroke-width="1.0"/>
<line x1="158.80" y1="500.50" x2="163.20" y2="500.50" stroke="#3a3a3a" stroke-width="1.0"/>
<line x1="174.60" y1="500.50" x2="179.00" y2="500.50" stroke="#3a3a3a" stroke-width="1.0"/>
<line x1="190.80" y1="500.50" x2="195.00" y2="500.50" stroke="#2a2a2a" stroke-width="1.3"/>
<line x1="192.90" y1="498.40" x2="192.90" y2="502.60" stroke="#2a2a2a" stroke-width="1.3"/>
<line x1="206.90" y1="500.50" x2="211.10" y2="500.50" stroke="#2a2a2a" stroke-width="1.3"/>
<line x1="209.00" y1="498.40" x2="209.00" y2="502.60" stroke="#2a2a2a" stroke-width="1.3"/>
<line x1="222.80" y1="500.50" x2="227.00" y2="500.50" stroke="#2a2a2a" stroke-width="1.3"/>
<line x1="224.90" y1="498.40" x2="224.90" y2="502.60" stroke="#2a2a2a" stroke-width="1.3"/>
<text x="100.1" y="518.9" font-size="9.12" text-anchor="end" fill="#231f20">Selumetinib 100 nmol/L</text>
<line x1="110.50" y1="514.30" x2="114.90" y2="514.30" stroke="#3a3a3a" stroke-width="1.0"/>
<line x1="126.60" y1="514.30" x2="131.00" y2="514.30" stroke="#3a3a3a" stroke-width="1.0"/>
<line x1="142.80" y1="514.30" x2="147.00" y2="514.30" stroke="#2a2a2a" stroke-width="1.3"/>
<line x1="144.90" y1="512.20" x2="144.90" y2="516.40" stroke="#2a2a2a" stroke-width="1.3"/>
<line x1="158.80" y1="514.30" x2="163.20" y2="514.30" stroke="#3a3a3a" stroke-width="1.0"/>
<line x1="174.60" y1="514.30" x2="179.00" y2="514.30" stroke="#3a3a3a" stroke-width="1.0"/>
<line x1="190.80" y1="514.30" x2="195.00" y2="514.30" stroke="#2a2a2a" stroke-width="1.3"/>
<line x1="192.90" y1="512.20" x2="192.90" y2="516.40" stroke="#2a2a2a" stroke-width="1.3"/>
<line x1="206.80" y1="514.30" x2="211.20" y2="514.30" stroke="#3a3a3a" stroke-width="1.0"/>
<line x1="222.70" y1="514.30" x2="227.10" y2="514.30" stroke="#3a3a3a" stroke-width="1.0"/>
<text x="100.1" y="532.6" font-size="9.12" text-anchor="end" fill="#231f20">Selumetinib 250 nmol/L</text>
<line x1="110.50" y1="527.90" x2="114.90" y2="527.90" stroke="#3a3a3a" stroke-width="1.0"/>
<line x1="126.60" y1="527.90" x2="131.00" y2="527.90" stroke="#3a3a3a" stroke-width="1.0"/>
<line x1="142.70" y1="527.90" x2="147.10" y2="527.90" stroke="#3a3a3a" stroke-width="1.0"/>
<line x1="158.90" y1="527.90" x2="163.10" y2="527.90" stroke="#2a2a2a" stroke-width="1.3"/>
<line x1="161.00" y1="525.80" x2="161.00" y2="530.00" stroke="#2a2a2a" stroke-width="1.3"/>
<line x1="174.60" y1="527.90" x2="179.00" y2="527.90" stroke="#3a3a3a" stroke-width="1.0"/>
<line x1="190.70" y1="527.90" x2="195.10" y2="527.90" stroke="#3a3a3a" stroke-width="1.0"/>
<line x1="206.90" y1="527.90" x2="211.10" y2="527.90" stroke="#2a2a2a" stroke-width="1.3"/>
<line x1="209.00" y1="525.80" x2="209.00" y2="530.00" stroke="#2a2a2a" stroke-width="1.3"/>
<line x1="222.70" y1="527.90" x2="227.10" y2="527.90" stroke="#3a3a3a" stroke-width="1.0"/>
<text x="100.1" y="546.2" font-size="9.12" text-anchor="end" fill="#231f20">Selumetinib 500 nmol/L</text>
<line x1="110.50" y1="541.60" x2="114.90" y2="541.60" stroke="#3a3a3a" stroke-width="1.0"/>
<line x1="126.60" y1="541.60" x2="131.00" y2="541.60" stroke="#3a3a3a" stroke-width="1.0"/>
<line x1="142.70" y1="541.60" x2="147.10" y2="541.60" stroke="#3a3a3a" stroke-width="1.0"/>
<line x1="158.80" y1="541.60" x2="163.20" y2="541.60" stroke="#3a3a3a" stroke-width="1.0"/>
<line x1="174.70" y1="541.60" x2="178.90" y2="541.60" stroke="#2a2a2a" stroke-width="1.3"/>
<line x1="176.80" y1="539.50" x2="176.80" y2="543.70" stroke="#2a2a2a" stroke-width="1.3"/>
<line x1="190.70" y1="541.60" x2="195.10" y2="541.60" stroke="#3a3a3a" stroke-width="1.0"/>
<line x1="206.80" y1="541.60" x2="211.20" y2="541.60" stroke="#3a3a3a" stroke-width="1.0"/>
<line x1="222.80" y1="541.60" x2="227.00" y2="541.60" stroke="#2a2a2a" stroke-width="1.3"/>
<line x1="224.90" y1="539.50" x2="224.90" y2="543.70" stroke="#2a2a2a" stroke-width="1.3"/>
<text transform="translate(95.6 565.4) scale(1.03 1)" font-size="8.95" text-anchor="end" fill="#231f20">pEGFR</text>
<text transform="translate(95.6 583.3000000000001) scale(1.03 1)" font-size="8.95" text-anchor="end" fill="#231f20">pERK1/2</text>
<text transform="translate(95.6 601.6) scale(1.03 1)" font-size="8.95" text-anchor="end" fill="#231f20">pAKT</text>
<text transform="translate(95.6 619.6) scale(1.03 1)" font-size="8.95" text-anchor="end" fill="#231f20">Total PARP</text>
<text transform="translate(95.6 630.1) scale(1.03 1)" font-size="8.95" text-anchor="end" fill="#231f20">Cleaved PARP</text>
<text transform="translate(95.6 650.9) scale(0.96 1)" font-size="8.95" text-anchor="end" fill="#231f20">BclxL</text>
<text transform="translate(95.6 681.3000000000001) scale(1.03 1)" font-size="8.95" text-anchor="end" fill="#231f20">BIM</text>
<text transform="translate(95.6 703.9) scale(1.03 1)" font-size="8.95" text-anchor="end" fill="#231f20">GAPDH</text>
<rect x="104.90" y="546.80" width="124.00" height="163.20" fill="url(#gbgE)"/>
<clipPath id="e1"><rect x="104.9" y="546.8" width="124.0" height="19.700000000000045"/></clipPath>
<clipPath id="e2"><rect x="104.9" y="568.0" width="124.0" height="21.299999999999955"/></clipPath>
<clipPath id="e3"><rect x="104.9" y="590.8" width="124.0" height="20.200000000000045"/></clipPath>
<clipPath id="e4"><rect x="104.9" y="613.0" width="124.0" height="21.200000000000045"/></clipPath>
<clipPath id="e5"><rect x="104.9" y="636.2" width="124.0" height="19.59999999999991"/></clipPath>
<clipPath id="e6"><rect x="104.9" y="657.7" width="124.0" height="29.699999999999932"/></clipPath>
<clipPath id="e7"><rect x="104.9" y="689.7" width="124.0" height="20.299999999999955"/></clipPath>
<rect x="104.70" y="566.50" width="124.40" height="1.50" fill="#fff"/>
<rect x="104.70" y="589.30" width="124.40" height="1.50" fill="#fff"/>
<rect x="104.70" y="611.00" width="124.40" height="2.00" fill="#fff"/>
<rect x="104.70" y="634.20" width="124.40" height="2.00" fill="#fff"/>
<rect x="104.70" y="655.80" width="124.40" height="1.90" fill="#fff"/>
<rect x="104.70" y="687.40" width="124.40" height="2.30" fill="#fff"/>
<rect x="104.90" y="546.80" width="124.00" height="7.00" fill="url(#gtop)"/>
<g clip-path="url(#e1)">
<rect x="112.0" y="558.25" width="11.4" height="4.30" rx="0.9" fill="#121212" opacity="0.95" filter="url(#b1)"/>
<rect x="140.3" y="557.65" width="10.5" height="3.90" rx="0.9" fill="#121212" opacity="0.95" filter="url(#b1)"/>
<rect x="153.0" y="557.55" width="10.8" height="3.70" rx="0.9" fill="#121212" opacity="0.95" filter="url(#b1)"/>
<rect x="167.0" y="558.60" width="11.8" height="2.80" rx="0.9" fill="#121212" opacity="0.93" filter="url(#b1)"/>
</g>
<g clip-path="url(#e2)">
<rect x="108.8" y="574.30" width="16.8" height="8.40" rx="3.4" fill="#121212" opacity="0.97" filter="url(#b1)"/>
<rect x="124.8" y="576.10" width="16.4" height="5.80" rx="2.6" fill="#121212" opacity="0.95" filter="url(#b1)"/>
<rect x="142.2" y="575.10" width="14.0" height="7.60" rx="3.2" fill="#121212" opacity="0.97" filter="url(#b1)"/>
<rect x="155.6" y="575.30" width="13.6" height="7.40" rx="3.2" fill="#121212" opacity="0.97" filter="url(#b1)"/>
<rect x="168.6" y="575.80" width="14.6" height="7.00" rx="3.0" fill="#121212" opacity="0.97" filter="url(#b1)"/>
<rect x="112.0" y="577.90" width="68.0" height="2.80" rx="0.9" fill="#121212" opacity="0.9" filter="url(#b1)"/>
<rect x="111" y="576.9" width="69" height="0.7" fill="#9a9a9a" opacity="0.35" filter="url(#b0)"/>
<ellipse cx="188.8" cy="581.2" rx="6.2" ry="0.95" fill="#121212" opacity="0.6" filter="url(#b1)"/>
<ellipse cx="203.8" cy="580.8" rx="5.3" ry="0.80" fill="#121212" opacity="0.28" filter="url(#b2)"/>
<ellipse cx="218.4" cy="580.4" rx="4.6" ry="0.70" fill="#121212" opacity="0.1" filter="url(#b2)"/>
</g>
<g clip-path="url(#e3)">
<path d="M108.2 599.60 Q110.0 598.40 113.2 598.40 L116.8 598.40 Q120.0 598.40 121.8 599.60 L121.8 600.40 Q120.0 601.60 116.8 601.60 L113.2 601.60 Q110.0 601.60 108.2 600.40 Z" fill="#121212" opacity="0.93" filter="url(#b1)"/>
<ellipse cx="129.6" cy="600.7" rx="4.2" ry="1.00" fill="#121212" opacity="0.2" filter="url(#b2)"/>
<path d="M139.4 600.50 Q140.8 599.00 143.4 599.00 L147.8 599.00 Q150.4 599.00 151.8 600.50 L151.8 601.50 Q150.4 603.00 147.8 603.00 L143.4 603.00 Q140.8 603.00 139.4 601.50 Z" fill="#121212" opacity="0.95" filter="url(#b1)"/>
<path d="M152.8 601.10 Q154.2 599.75 156.8 599.75 L161.6 599.75 Q164.2 599.75 165.6 601.10 L165.6 602.10 Q164.2 603.45 161.6 603.45 L156.8 603.45 Q154.2 603.45 152.8 602.10 Z" fill="#121212" opacity="0.93" filter="url(#b1)"/>
<path d="M166.8 601.70 Q168.2 600.35 170.8 600.35 L175.4 600.35 Q178.0 600.35 179.4 601.70 L179.4 602.70 Q178.0 604.05 175.4 604.05 L170.8 604.05 Q168.2 604.05 166.8 602.70 Z" fill="#121212" opacity="0.93" filter="url(#b1)"/>
<ellipse cx="187.7" cy="602.2" rx="5.3" ry="1.00" fill="#121212" opacity="0.42" filter="url(#b2)"/>
<ellipse cx="202.7" cy="601.6" rx="5.0" ry="1.00" fill="#121212" opacity="0.32" filter="url(#b2)"/>
<ellipse cx="217.7" cy="600.7" rx="5.3" ry="1.00" fill="#121212" opacity="0.28" filter="url(#b2)"/>
</g>
<g clip-path="url(#e4)">
<path d="M104.9 617.70 Q106.7 616.05 109.9 616.05 L117.6 616.05 Q120.8 616.05 122.6 617.70 L122.6 619.90 Q120.8 621.55 117.6 621.55 L109.9 621.55 Q106.7 621.55 104.9 619.90 Z" fill="#121212" opacity="0.97" filter="url(#b1)"/>
<path d="M122.0 617.70 Q123.8 616.05 127.0 616.05 L132.3 616.05 Q135.6 616.05 137.3 617.70 L137.3 619.90 Q135.6 621.55 132.3 621.55 L127.0 621.55 Q123.8 621.55 122.0 619.90 Z" fill="#121212" opacity="0.97" filter="url(#b1)"/>
<path d="M136.7 617.70 Q138.4 616.05 141.7 616.05 L146.8 616.05 Q150.1 616.05 151.8 617.70 L151.8 619.90 Q150.1 621.55 146.8 621.55 L141.7 621.55 Q138.4 621.55 136.7 619.90 Z" fill="#121212" opacity="0.97" filter="url(#b1)"/>
<path d="M151.2 617.70 Q152.9 616.05 156.2 616.05 L160.7 616.05 Q164.0 616.05 165.7 617.70 L165.7 619.90 Q164.0 621.55 160.7 621.55 L156.2 621.55 Q152.9 621.55 151.2 619.90 Z" fill="#121212" opacity="0.97" filter="url(#b1)"/>
<path d="M165.1 617.70 Q166.8 616.05 170.1 616.05 L175.3 616.05 Q178.6 616.05 180.3 617.70 L180.3 619.90 Q178.6 621.55 175.3 621.55 L170.1 621.55 Q166.8 621.55 165.1 619.90 Z" fill="#121212" opacity="0.97" filter="url(#b1)"/>
<path d="M179.7 618.00 Q181.4 616.85 184.7 616.85 L189.9 616.85 Q193.2 616.85 194.9 618.00 L194.9 620.20 Q193.2 621.35 189.9 621.35 L184.7 621.35 Q181.4 621.35 179.7 620.20 Z" fill="#121212" opacity="0.97" filter="url(#b1)"/>
<path d="M194.3 618.50 Q196.0 616.85 199.3 616.85 L205.5 616.85 Q208.8 616.85 210.5 618.50 L210.5 619.70 Q208.8 621.35 205.5 621.35 L199.3 621.35 Q196.0 621.35 194.3 619.70 Z" fill="#121212" opacity="0.97" filter="url(#b1)"/>
<path d="M209.9 618.50 Q211.6 616.85 214.9 616.85 L219.8 616.85 Q223.1 616.85 224.8 618.50 L224.8 619.70 Q223.1 621.35 219.8 621.35 L214.9 621.35 Q211.6 621.35 209.9 619.70 Z" fill="#121212" opacity="0.97" filter="url(#b1)"/>
<ellipse cx="114.2" cy="626.2" rx="6.5" ry="0.85" fill="#121212" opacity="0.2" filter="url(#b2)"/>
<ellipse cx="130.0" cy="626.2" rx="5.4" ry="0.85" fill="#121212" opacity="0.36" filter="url(#b2)"/>
<ellipse cx="144.6" cy="626.2" rx="5.4" ry="0.85" fill="#121212" opacity="0.5" filter="url(#b1)"/>
<ellipse cx="158.4" cy="626.2" rx="5.4" ry="0.85" fill="#121212" opacity="0.2" filter="url(#b2)"/>
<ellipse cx="172.7" cy="626.2" rx="5.0" ry="0.85" fill="#121212" opacity="0.24" filter="url(#b2)"/>
<ellipse cx="187.2" cy="626.2" rx="5.8" ry="0.85" fill="#121212" opacity="0.26" filter="url(#b2)"/>
<ellipse cx="203.0" cy="626.2" rx="5.0" ry="0.85" fill="#121212" opacity="0.07" filter="url(#b2)"/>
<ellipse cx="217.5" cy="626.2" rx="4.5" ry="0.85" fill="#121212" opacity="0.08" filter="url(#b2)"/>
<ellipse cx="221.4" cy="626.6" rx="1.1" ry="0.75" fill="#121212" opacity="0.4" filter="url(#b2)"/>
<path d="M104.6 622.6 Q109.6 627.8 107.2 633.4 L104.6 633.4 Z" fill="#0a0a0a" filter="url(#b0)"/>
</g>
<g clip-path="url(#e5)">
<path d="M108.3 643.90 Q109.3 642.95 111.3 642.95 L116.6 642.95 Q118.6 642.95 119.6 643.90 L119.6 644.70 Q118.6 645.65 116.6 645.65 L111.3 645.65 Q109.3 645.65 108.3 644.70 Z" fill="#121212" opacity="0.95" filter="url(#b1)"/>
<path d="M124.4 643.90 Q125.4 643.20 127.4 643.20 L131.8 643.20 Q133.7 643.20 134.8 643.90 L134.8 644.70 Q133.7 645.40 131.8 645.40 L127.4 645.40 Q125.4 645.40 124.4 644.70 Z" fill="#121212" opacity="0.18" filter="url(#b2)"/>
<path d="M140.1 643.90 Q141.2 642.95 143.1 642.95 L147.4 642.95 Q149.3 642.95 150.4 643.90 L150.4 644.70 Q149.3 645.65 147.4 645.65 L143.1 645.65 Q141.2 645.65 140.1 644.70 Z" fill="#121212" opacity="0.75" filter="url(#b1)"/>
<path d="M154.4 643.90 Q155.5 643.20 157.4 643.20 L161.0 643.20 Q162.9 643.20 164.0 643.90 L164.0 644.70 Q162.9 645.40 161.0 645.40 L157.4 645.40 Q155.5 645.40 154.4 644.70 Z" fill="#121212" opacity="0.6" filter="url(#b1)"/>
<path d="M169.0 643.90 Q170.1 643.20 172.0 643.20 L175.7 643.20 Q177.6 643.20 178.7 643.90 L178.7 644.70 Q177.6 645.40 175.7 645.40 L172.0 645.40 Q170.1 645.40 169.0 644.70 Z" fill="#121212" opacity="0.28" filter="url(#b2)"/>
<path d="M184.4 643.90 Q185.5 643.20 187.4 643.20 L190.2 643.20 Q192.1 643.20 193.2 643.90 L193.2 644.70 Q192.1 645.40 190.2 645.40 L187.4 645.40 Q185.5 645.40 184.4 644.70 Z" fill="#121212" opacity="0.08" filter="url(#b2)"/>
<path d="M197.8 643.90 Q198.9 643.20 200.8 643.20 L206.4 643.20 Q208.3 643.20 209.4 643.90 L209.4 644.70 Q208.3 645.40 206.4 645.40 L200.8 645.40 Q198.9 645.40 197.8 644.70 Z" fill="#121212" opacity="0.5" filter="url(#b2)"/>
<path d="M213.3 643.90 Q214.4 643.20 216.3 643.20 L219.7 643.20 Q221.6 643.20 222.7 643.90 L222.7 644.70 Q221.6 645.40 219.7 645.40 L216.3 645.40 Q214.4 645.40 213.3 644.70 Z" fill="#121212" opacity="0.07" filter="url(#b2)"/>
</g>
<g clip-path="url(#e6)">
<ellipse cx="111.2" cy="669.4" rx="4.2" ry="1.00" fill="#121212" opacity="0.17" filter="url(#b2)"/>
<ellipse cx="113.9" cy="665.4" rx="0.7" ry="0.65" fill="#121212" opacity="0.4" filter="url(#b2)"/>
<path d="M121.3 669.30 Q122.3 668.20 124.3 668.20 L130.2 668.20 Q132.1 668.20 133.2 669.30 L133.2 670.30 Q132.1 671.40 130.2 671.40 L124.3 671.40 Q122.3 671.40 121.3 670.30 Z" fill="#121212" opacity="0.93" filter="url(#b1)"/>
<path d="M137.5 669.30 Q138.6 668.30 140.5 668.30 L144.2 668.30 Q146.1 668.30 147.2 669.30 L147.2 670.30 Q146.1 671.30 144.2 671.30 L140.5 671.30 Q138.6 671.30 137.5 670.30 Z" fill="#121212" opacity="0.85" filter="url(#b1)"/>
<path d="M151.8 669.30 Q152.9 667.90 154.8 667.90 L160.2 667.90 Q162.1 667.90 163.2 669.30 L163.2 670.30 Q162.1 671.70 160.2 671.70 L154.8 671.70 Q152.9 671.70 151.8 670.30 Z" fill="#121212" opacity="0.95" filter="url(#b1)"/>
<path d="M167.5 669.30 Q168.6 668.50 170.5 668.50 L174.9 668.50 Q176.8 668.50 177.9 669.30 L177.9 670.30 Q176.8 671.10 174.9 671.10 L170.5 671.10 Q168.6 671.10 167.5 670.30 Z" fill="#121212" opacity="0.8" filter="url(#b1)"/>
<path d="M181.3 669.30 Q182.4 668.00 184.3 668.00 L190.7 668.00 Q192.6 668.00 193.7 669.30 L193.7 670.30 Q192.6 671.60 190.7 671.60 L184.3 671.60 Q182.4 671.60 181.3 670.30 Z" fill="#121212" opacity="0.96" filter="url(#b1)"/>
<path d="M197.0 669.30 Q198.1 667.85 200.0 667.85 L206.4 667.85 Q208.3 667.85 209.4 669.30 L209.4 670.30 Q208.3 671.75 206.4 671.75 L200.0 671.75 Q198.1 671.75 197.0 670.30 Z" fill="#121212" opacity="0.97" filter="url(#b1)"/>
<path d="M212.8 669.30 Q213.9 668.20 215.8 668.20 L222.6 668.20 Q224.5 668.20 225.6 669.30 L225.6 670.30 Q224.5 671.40 222.6 671.40 L215.8 671.40 Q213.9 671.40 212.8 670.30 Z" fill="#121212" opacity="0.95" filter="url(#b1)"/>
</g>
<g clip-path="url(#e7)">
<path d="M106.7 698.45 Q108.6 697.70 112.2 697.70 L119.4 697.70 Q123.0 697.70 124.9 698.45 L124.9 699.75 Q123.0 700.50 119.4 700.50 L112.2 700.50 Q108.6 700.50 106.7 699.75 Z" fill="#121212" opacity="0.97" filter="url(#b1)"/>
<path d="M124.3 698.57 Q126.2 697.82 129.8 697.82 L135.6 697.82 Q139.2 697.82 141.1 698.57 L141.1 699.87 Q139.2 700.62 135.6 700.62 L129.8 700.62 Q126.2 700.62 124.3 699.87 Z" fill="#121212" opacity="0.97" filter="url(#b1)"/>
<path d="M140.5 698.69 Q142.4 697.94 146.0 697.94 L149.4 697.94 Q153.0 697.94 154.9 698.69 L154.9 699.99 Q153.0 700.74 149.4 700.74 L146.0 700.74 Q142.4 700.74 140.5 699.99 Z" fill="#121212" opacity="0.97" filter="url(#b1)"/>
<path d="M154.3 698.81 Q156.2 698.06 159.8 698.06 L163.3 698.06 Q166.9 698.06 168.8 698.81 L168.8 700.11 Q166.9 700.86 163.3 700.86 L159.8 700.86 Q156.2 700.86 154.3 700.11 Z" fill="#121212" opacity="0.97" filter="url(#b1)"/>
<path d="M168.2 698.93 Q170.1 698.18 173.7 698.18 L177.8 698.18 Q181.4 698.18 183.3 698.93 L183.3 700.23 Q181.4 700.98 177.8 700.98 L173.7 700.98 Q170.1 700.98 168.2 700.23 Z" fill="#121212" opacity="0.97" filter="url(#b1)"/>
<path d="M182.7 699.05 Q184.6 698.30 188.2 698.30 L191.8 698.30 Q195.4 698.30 197.3 699.05 L197.3 700.35 Q195.4 701.10 191.8 701.10 L188.2 701.10 Q184.6 701.10 182.7 700.35 Z" fill="#121212" opacity="0.97" filter="url(#b1)"/>
<path d="M196.7 699.17 Q198.6 698.42 202.2 698.42 L206.3 698.42 Q209.9 698.42 211.8 699.17 L211.8 700.47 Q209.9 701.22 206.3 701.22 L202.2 701.22 Q198.6 701.22 196.7 700.47 Z" fill="#121212" opacity="0.97" filter="url(#b1)"/>
<path d="M211.2 699.29 Q213.1 698.54 216.7 698.54 L220.4 698.54 Q224.0 698.54 225.9 699.29 L225.9 700.59 Q224.0 701.34 220.4 701.34 L216.7 701.34 Q213.1 701.34 211.2 700.59 Z" fill="#121212" opacity="0.97" filter="url(#b1)"/>
</g>
<text transform="translate(275.2 483.8) scale(0.92 1)" font-size="18.4" text-anchor="start" font-weight="bold" fill="#111" style="stroke:#111;stroke-width:0.6px">F</text>
<text x="358.3" y="486.3" font-size="9.1" fill="#231f20" xml:space="preserve"><tspan font-style="normal">NCI-H1975</tspan><tspan font-style="italic">EGFR</tspan><tspan font-style="normal"> T790M</tspan></text>
<text x="325.7" y="621.6" font-size="9.0" text-anchor="end" fill="#231f20">0</text>
<line x1="328.70" y1="618.50" x2="331.20" y2="618.50" stroke="#8c8c8c" stroke-width="0.8"/>
<text x="325.7" y="605.84" font-size="9.0" text-anchor="end" fill="#231f20">1,000</text>
<line x1="328.70" y1="602.74" x2="331.20" y2="602.74" stroke="#8c8c8c" stroke-width="0.8"/>
<text x="325.7" y="590.08" font-size="9.0" text-anchor="end" fill="#231f20">2,000</text>
<line x1="328.70" y1="586.98" x2="331.20" y2="586.98" stroke="#8c8c8c" stroke-width="0.8"/>
<text x="325.7" y="574.32" font-size="9.0" text-anchor="end" fill="#231f20">3,000</text>
<line x1="328.70" y1="571.22" x2="331.20" y2="571.22" stroke="#8c8c8c" stroke-width="0.8"/>
<text x="325.7" y="558.5600000000001" font-size="9.0" text-anchor="end" fill="#231f20">4,000</text>
<line x1="328.70" y1="555.46" x2="331.20" y2="555.46" stroke="#8c8c8c" stroke-width="0.8"/>
<text x="325.7" y="542.8000000000001" font-size="9.0" text-anchor="end" fill="#231f20">5,000</text>
<line x1="328.70" y1="539.70" x2="331.20" y2="539.70" stroke="#8c8c8c" stroke-width="0.8"/>
<text x="325.7" y="527.0400000000001" font-size="9.0" text-anchor="end" fill="#231f20">6,000</text>
<line x1="328.70" y1="523.94" x2="331.20" y2="523.94" stroke="#8c8c8c" stroke-width="0.8"/>
<text x="325.7" y="511.28000000000003" font-size="9.0" text-anchor="end" fill="#231f20">7,000</text>
<line x1="328.70" y1="508.18" x2="331.20" y2="508.18" stroke="#8c8c8c" stroke-width="0.8"/>
<line x1="331.20" y1="508.18" x2="331.20" y2="618.50" stroke="#8c8c8c" stroke-width="0.9"/>
<line x1="342.00" y1="536.55" x2="342.00" y2="548.08" stroke="#231f20" stroke-width="0.9"/>
<line x1="339.50" y1="536.55" x2="344.50" y2="536.55" stroke="#231f20" stroke-width="0.9"/>
<rect x="334.70" y="547.58" width="14.60" height="70.92" fill="#231f20"/>
<line x1="363.60" y1="584.93" x2="363.60" y2="587.32" stroke="#231f20" stroke-width="0.9"/>
<line x1="361.10" y1="584.93" x2="366.10" y2="584.93" stroke="#231f20" stroke-width="0.9"/>
<rect x="356.30" y="586.82" width="14.60" height="31.68" fill="#231f20"/>
<line x1="385.20" y1="520.16" x2="385.20" y2="524.28" stroke="#231f20" stroke-width="0.9"/>
<line x1="382.70" y1="520.16" x2="387.70" y2="520.16" stroke="#231f20" stroke-width="0.9"/>
<rect x="377.90" y="523.78" width="14.60" height="94.72" fill="#231f20"/>
<line x1="406.80" y1="525.52" x2="406.80" y2="531.69" stroke="#231f20" stroke-width="0.9"/>
<line x1="404.30" y1="525.52" x2="409.30" y2="525.52" stroke="#231f20" stroke-width="0.9"/>
<rect x="399.50" y="531.19" width="14.60" height="87.31" fill="#231f20"/>
<line x1="428.40" y1="537.34" x2="428.40" y2="544.61" stroke="#231f20" stroke-width="0.9"/>
<line x1="425.90" y1="537.34" x2="430.90" y2="537.34" stroke="#231f20" stroke-width="0.9"/>
<rect x="421.10" y="544.11" width="14.60" height="74.39" fill="#231f20"/>
<line x1="450.00" y1="612.83" x2="450.00" y2="616.32" stroke="#231f20" stroke-width="0.9"/>
<line x1="447.50" y1="612.83" x2="452.50" y2="612.83" stroke="#231f20" stroke-width="0.9"/>
<rect x="442.70" y="615.82" width="14.60" height="2.68" fill="#231f20"/>
<line x1="471.60" y1="615.51" x2="471.60" y2="617.82" stroke="#231f20" stroke-width="0.9"/>
<line x1="469.10" y1="615.51" x2="474.10" y2="615.51" stroke="#231f20" stroke-width="0.9"/>
<rect x="464.30" y="617.32" width="14.60" height="1.18" fill="#231f20"/>
<line x1="328.70" y1="618.50" x2="504.00" y2="618.50" stroke="#8c8c8c" stroke-width="0.9"/>
<line x1="331.20" y1="618.50" x2="331.20" y2="700.50" stroke="#8c8c8c" stroke-width="0.8"/>
<line x1="352.80" y1="618.50" x2="352.80" y2="662.90" stroke="#8c8c8c" stroke-width="0.8"/>
<line x1="374.40" y1="618.50" x2="374.40" y2="700.50" stroke="#8c8c8c" stroke-width="0.8"/>
<line x1="396.00" y1="618.50" x2="396.00" y2="662.90" stroke="#8c8c8c" stroke-width="0.8"/>
<line x1="417.60" y1="618.50" x2="417.60" y2="662.90" stroke="#8c8c8c" stroke-width="0.8"/>
<line x1="439.20" y1="618.50" x2="439.20" y2="700.50" stroke="#8c8c8c" stroke-width="0.8"/>
<line x1="460.80" y1="618.50" x2="460.80" y2="662.90" stroke="#8c8c8c" stroke-width="0.8"/>
<line x1="482.40" y1="618.50" x2="482.40" y2="662.90" stroke="#8c8c8c" stroke-width="0.8"/>
<line x1="504.00" y1="618.50" x2="504.00" y2="700.50" stroke="#8c8c8c" stroke-width="0.8"/>
<text transform="translate(344.8 623.0) rotate(-90)" font-size="8.0" text-anchor="end" fill="#231f20">Control</text>
<text transform="translate(366.40000000000003 623.0) rotate(-90)" font-size="8.0" text-anchor="end" fill="#231f20">AZD9291</text>
<text transform="translate(388.0 623.0) rotate(-90)" font-size="8.0" text-anchor="end" fill="#231f20">100 nmol/L</text>
<text transform="translate(409.6 623.0) rotate(-90)" font-size="8.0" text-anchor="end" fill="#231f20">250 nmol/L</text>
<text transform="translate(431.2 623.0) rotate(-90)" font-size="8.0" text-anchor="end" fill="#231f20">500 nmol/L</text>
<text transform="translate(452.8 623.0) rotate(-90)" font-size="8.0" text-anchor="end" fill="#231f20">100 nmol/L</text>
<text transform="translate(474.40000000000003 623.0) rotate(-90)" font-size="8.0" text-anchor="end" fill="#231f20">250 nmol/L</text>
<text transform="translate(496.0 623.0) rotate(-90)" font-size="8.0" text-anchor="end" fill="#231f20">500 nmol/L</text>
<text x="406.8" y="677.0" font-size="8.9" text-anchor="middle" fill="#231f20">Selumetinib</text>
<text x="448.3" y="677.0" font-size="8.9" text-anchor="start" fill="#231f20">160 nmol/L</text>
<text x="448.3" y="687.5" font-size="8.9" text-anchor="start" fill="#231f20">AZD9291 +</text>
<text x="448.3" y="698.0" font-size="8.9" text-anchor="start" fill="#231f20">selumetinib</text>
<text transform="translate(290.5 568.7) rotate(-90)" font-size="9.15" text-anchor="middle" font-weight="bold" fill="#231f20" style="stroke-width:0.55px">Cell number</text>
</svg></body></html>
